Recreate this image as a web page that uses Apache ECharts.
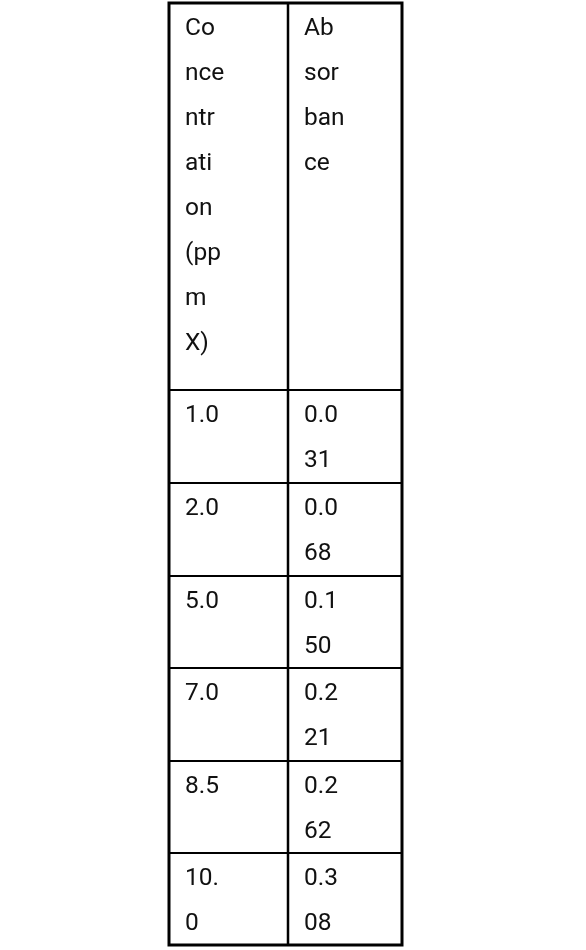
<!DOCTYPE html>
<html><head><meta charset="utf-8">
<script src="https://cdn.jsdelivr.net/npm/echarts@6/dist/echarts.min.js"></script>
<style>html,body{margin:0;padding:0;background:#fff}#main{width:586px;height:950px}</style>
</head><body><div id="main"></div>
<script>
var headers = ['Concentration (ppm X)', 'Absorbance'];
var concentration = ['1.0', '2.0', '5.0', '7.0', '8.5', '10.0'];
var absorbance = ['0.031', '0.068', '0.150', '0.221', '0.262', '0.308'];

var colX = [169, 288, 402];
var rowY = [3, 390, 483, 576, 668, 761, 853, 945];

var chart = echarts.init(document.getElementById('main'));
var els = [];
var rows = [headers];
for (var i = 0; i < concentration.length; i++) rows.push([concentration[i], absorbance[i]]);

// cell text, words wrap separately
for (var r = 0; r < rows.length; r++) {
	for (var c = 0; c < 2; c++) {
		els.push({
			type: 'text', x: colX[c] + 16, y: rowY[r] + 3,
			style: {
				text: rows[r][c].split(' ').join('\n'), width: 41, overflow: 'breakAll',
				font: '24.5px Roboto', lineHeight: 45, fill: '#111', verticalAlign: 'top'
			}
		});
	}
}
// grid lines
for (var r = 1; r < rowY.length - 1; r++) {
	els.push({type: 'line', shape: {x1: colX[0], y1: rowY[r], x2: colX[2], y2: rowY[r]}, style: {stroke: '#000', lineWidth: 2}});
}
els.push({type: 'line', shape: {x1: colX[1], y1: rowY[0], x2: colX[1], y2: rowY[rowY.length - 1]}, style: {stroke: '#000', lineWidth: 2.5}});
els.push({type: 'rect', shape: {x: colX[0], y: rowY[0], width: colX[2] - colX[0], height: rowY[rowY.length - 1] - rowY[0]}, style: {fill: 'none', stroke: '#000', lineWidth: 3}});

chart.setOption({animation: false, graphic: {elements: els}});
</script></body></html>
